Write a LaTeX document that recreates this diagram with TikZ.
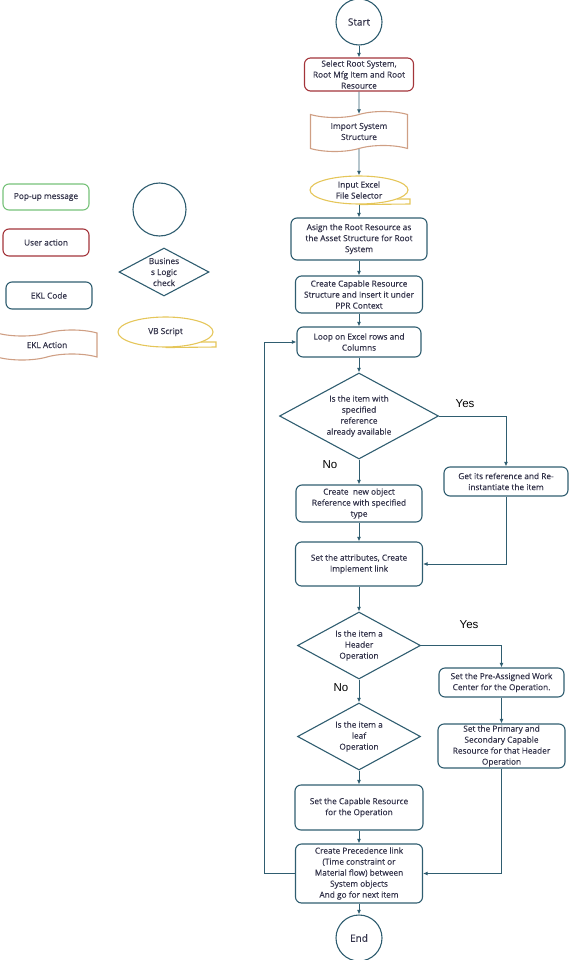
\documentclass[tikz,border=0pt]{standalone}
\usepackage{fontspec}
\setmainfont{Open Sans}[FakeBold=0.35]
\newfontfamily\ynfont{Liberation Sans}
\usetikzlibrary{shapes.geometric,shapes.symbols,arrows.meta}
\definecolor{ln}{HTML}{2F5D70}
\definecolor{txt}{HTML}{33334A}
\definecolor{redb}{HTML}{A3343A}
\definecolor{grnb}{HTML}{77C27A}
\definecolor{tanb}{HTML}{CF9F84}
\definecolor{yelb}{HTML}{E5C65A}
\begin{document}
\begin{tikzpicture}[x=1pt,y=-1pt,
  base/.style={font=\fontsize{8.3}{11}\selectfont, text=txt, align=center, inner sep=0pt, line width=1.1pt},
  box/.style={base, draw=ln, rounded corners=6pt},
  term/.style={base, circle, draw=ln, minimum size=46, font=\fontsize{10}{11}\selectfont},
  tapebox/.style={base, tape, draw=tanb, tape bend height=6pt},
  tapeell/.style={base, ellipse, draw=yelb},
  dia/.style={base, diamond, draw=ln},
  dtext/.style={font=\fontsize{8.3}{11}\selectfont, text=txt, align=center, inner sep=0pt},
  yn/.style={font=\ynfont\fontsize{11.5}{13}\selectfont, text=black, inner sep=0pt},
  conn/.style={draw=ln, line width=0.9pt, -{Latex[length=4.5pt,width=4pt]}}
]
\useasboundingbox (0,0) rectangle (569,960);

% ---- main flow ----
\node[term] (start) at (359,22) {Start};
\node[box, draw=redb, minimum width=109, minimum height=33] (sel) at (359,74.5) {Select Root System,\\Root Mfg Item and Root\\Resource};
\node[tapebox, minimum width=97, minimum height=40] (imp) at (359,131.5) {Import System\\Structure};
\node[tapeell, minimum width=98, minimum height=28] (exc) at (359,190) {Input Excel\\File Selector};
\draw[yelb, line width=1.1pt] (exc.south) -- (410,204) -- (410,199) -- (397,199);
\node[box, minimum width=136, minimum height=42] (asg) at (359,239) {Asign the Root Resource as\\the Asset Structure for Root\\System};
\node[box, minimum width=127, minimum height=37] (ccr) at (359,294.5) {Create Capable Resource\\Structure and Insert it under\\PPR Context};
\node[box, minimum width=124, minimum height=30] (loop) at (359,342) {Loop on Excel rows and\\Columns};
\node[dia, minimum width=159, minimum height=86,
  label={[dtext]center:Is the item with\\specified\\reference\\already available}] (d1) at (359,416) {};
\node[box, minimum width=124, minimum height=29] (get) at (506,481.5) {Get its reference and Re-\\instantiate the item};
\node[box, minimum width=126, minimum height=37] (cno) at (359,503.5) {Create\ \ new object\\Reference with specified\\type};
\node[box, minimum width=127, minimum height=44] (att) at (359,564) {Set the attributes, Create\\Implement link};
\node[dia, minimum width=123, minimum height=67,
  label={[dtext]center:Is the item a\\Header\\Operation}] (d2) at (359,645.5) {};
\node[box, minimum width=125, minimum height=29] (pre) at (501.5,682.5) {Set the Pre-Assigned Work\\Center for the Operation.};
\node[dia, minimum width=123, minimum height=67,
  label={[dtext]center:Is the item a\\leaf\\Operation}] (d3) at (359,736.5) {};
\node[box, minimum width=127, minimum height=44] (pri) at (501.5,746) {Set the Primary and\\Secondary Capable\\Resource for that Header\\Operation};
\node[box, minimum width=128, minimum height=45] (scr) at (359,807.5) {Set the Capable Resource\\for the Operation};
\node[box, minimum width=127, minimum height=59] (prec) at (359,873.5) {Create Precedence link\\(Time constraint or\\Material flow) between\\System objects\\And go for next item};
\node[term] (end) at (359,938) {End};

\node[yn] (yes1) at (465,404) {Yes};
\node[yn] (no1) at (330,465) {No};
\node[yn] (yes2) at (469,625) {Yes};
\node[yn] (no2) at (341,688) {No};

\coordinate (lb) at (264,873.5);

\draw[conn] (start) -- (sel);
\draw[conn] (sel) -- (imp);
\draw[conn] (imp) -- (exc);
\draw[conn] (exc) -- (asg);
\draw[conn] (asg) -- (ccr);
\draw[conn] (ccr) -- (loop);
\draw[conn] (loop) -- (d1);
\draw[conn] (d1) -- (cno);
\draw[conn] (cno) -- (att);
\draw[conn] (att) -- (d2);
\draw[conn] (d2) -- (d3);
\draw[conn] (d3) -- (scr);
\draw[conn] (scr) -- (prec);
\draw[conn] (prec) -- (end);
\draw[conn] (d1.east) -| (get.north);
\draw[conn] (get.south) |- (att.east);
\draw[conn] (d2.east) -| (pre.north);
\draw[conn] (pre) -- (pri);
\draw[conn] (pri.south) |- (prec.east);
\draw[conn] (prec.west) -- (lb) |- (loop.west);

% ---- legend ----
\node[box, draw=grnb, minimum width=86, minimum height=26] (lg1) at (46,197) {Pop-up message};
\node[box, draw=redb, minimum width=86, minimum height=27] (lg2) at (46,242.5) {User action};
\node[box, minimum width=86, minimum height=27] (lg3) at (49,295.5) {EKL Code};
\node[tapebox, minimum width=100, minimum height=30] (lg4) at (47,345) {EKL Action};
\node[base, circle, draw=ln, minimum size=53] (lg5) at (159.5,209.5) {};
\node[dia, minimum width=90, minimum height=48,
  label={[dtext]center:Busines\\s Logic\\check}] (lg6) at (164,272) {};
\node[tapeell, minimum width=95, minimum height=30] (lg7) at (165.5,332) {VB Script};
\draw[yelb, line width=1.1pt] (lg7.south) -- (216,347) -- (216,342) -- (201,342);
\end{tikzpicture}
\end{document}
